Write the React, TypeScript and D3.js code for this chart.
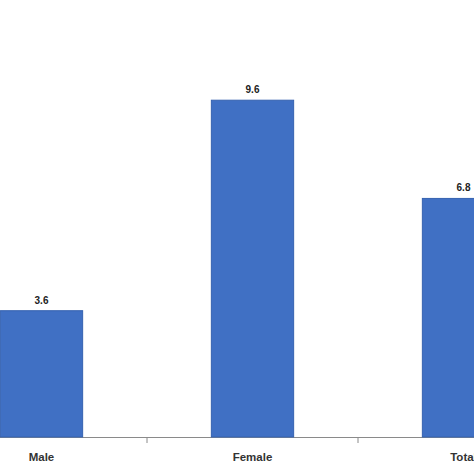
import React from "react";
import * as d3 from "d3";

const categories = ["Male", "Female", "Total"];
const values = [3.6, 9.6, 6.8];
const valueLabels = ["3.6", "9.6", "6.8"];

const W = 474;
const H = 474;

export default function App() {
  const x = d3
    .scaleBand<string>()
    .domain(categories)
    .range([-64, 569])
    .paddingInner(0.61)
    .paddingOuter(0.305);
  const y = d3.scaleLinear().domain([0, 12]).range([437, 16]);
  const step = x.step();
  const ticks = categories.slice(0, -1).map((c) => (x(c) as number) + x.bandwidth() / 2 + step / 2);

  return (
    <svg
      width={W}
      height={H}
      style={{ position: "absolute", left: 0, top: 0, background: "#fff" }}
      fontFamily="'Liberation Sans', Arial, sans-serif"
    >
      <line x1={0} x2={W} y1={y(0) + 0.5} y2={y(0) + 0.5} stroke="#8a8a8a" strokeWidth={1} />
      {ticks.map((t, i) => (
        <line key={i} x1={t} x2={t} y1={y(0)} y2={y(0) + 6} stroke="#8a8a8a" strokeWidth={1} />
      ))}
      {categories.map((c, i) => (
        <g key={c}>
          <rect
            x={x(c)}
            y={y(values[i])}
            width={x.bandwidth()}
            height={y(0) - y(values[i])}
            fill="#4070c4"
            stroke="#3562b0"
            strokeWidth={1}
          />
          <text
            x={(x(c) as number) + x.bandwidth() / 2}
            y={y(values[i]) - 7}
            textAnchor="middle"
            fontSize={10}
            fontWeight="bold"
            fill="#222"
          >
            {valueLabels[i]}
          </text>
          <text
            x={(x(c) as number) + x.bandwidth() / 2}
            y={461}
            textAnchor="middle"
            fontSize={11.5}
            fontWeight="bold"
            fill="#333"
          >
            {c}
          </text>
        </g>
      ))}
    </svg>
  );
}
